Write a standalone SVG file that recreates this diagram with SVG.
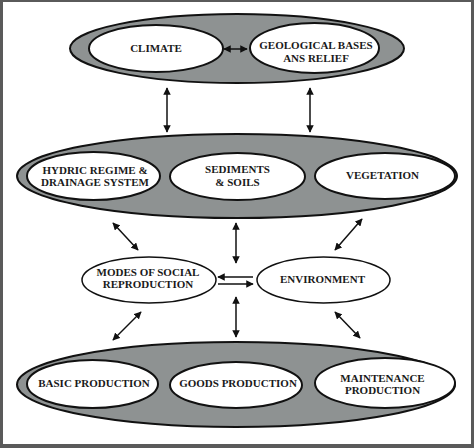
<svg xmlns="http://www.w3.org/2000/svg" width="474" height="448" viewBox="0 0 474 448">
<style>
.outer{fill:#8e9292;stroke:#111;stroke-width:2}
.inner{fill:#fff;stroke:#111;stroke-width:2}
.plain{fill:#fff;stroke:#111;stroke-width:1.5}
text{font-family:"Liberation Serif","Times New Roman",serif;font-weight:bold;font-size:11px;fill:#1a1a1a;text-anchor:middle}
.conn line{stroke:#111;stroke-width:1.5;marker-end:url(#ah)}
.conn line.dbl{marker-start:url(#ah)}
</style>
<defs>
<marker id="ah" viewBox="0 0 10 10" refX="9" refY="5" markerWidth="5" markerHeight="5" orient="auto-start-reverse" markerUnits="strokeWidth">
<path d="M0,0 L10,5 L0,10 Z" fill="#111"/>
</marker>
</defs>
<rect width="474" height="448" fill="#fff"/>
<g id="frame" fill="#5a5a5a">
<rect x="0" y="0" width="474" height="2"/>
<rect x="0" y="0" width="3" height="448"/>
<rect x="471" y="0" width="3" height="448"/>
<rect x="0" y="444" width="474" height="4"/>
</g>
<g id="group-top"><ellipse class="outer" cx="237" cy="48.5" rx="167" ry="34.5"/></g>
<g id="group-middle"><ellipse class="outer" cx="237" cy="176" rx="220" ry="42"/></g>
<g id="group-bottom"><ellipse class="outer" cx="236" cy="384.5" rx="219" ry="42.5"/></g>
<g id="climate"><ellipse class="inner" cx="156" cy="48.5" rx="67" ry="23.5"/><text x="156" y="52">CLIMATE</text></g>
<g id="geological"><ellipse class="inner" cx="314.5" cy="48" rx="64.5" ry="25"/><text x="316" y="48.5">GEOLOGICAL BASES</text><text x="316" y="61.5">ANS RELIEF</text></g>
<g id="hydric"><ellipse class="inner" cx="93.5" cy="176" rx="66.5" ry="24"/><text x="95" y="173.5">HYDRIC REGIME &amp;</text><text x="95" y="186">DRAINAGE SYSTEM</text></g>
<g id="sediments"><ellipse class="inner" cx="237.5" cy="176.5" rx="67.5" ry="23.5"/><text x="237.5" y="173">SEDIMENTS</text><text x="237.5" y="185.5">&amp; SOILS</text></g>
<g id="vegetation"><ellipse class="inner" cx="385" cy="176" rx="70" ry="23"/><text x="382.5" y="179">VEGETATION</text></g>
<g id="modes"><ellipse class="plain" cx="149" cy="280" rx="67" ry="23"/><text x="148" y="276">MODES OF SOCIAL</text><text x="148" y="288">REPRODUCTION</text></g>
<g id="environment"><ellipse class="plain" cx="323.5" cy="280" rx="66.5" ry="23"/><text x="322.5" y="283">ENVIRONMENT</text></g>
<g id="basic"><ellipse class="inner" cx="92.5" cy="384" rx="65.5" ry="24"/><text x="94" y="387">BASIC PRODUCTION</text></g>
<g id="goods"><ellipse class="inner" cx="236" cy="385" rx="66" ry="23"/><text x="238" y="387">GOODS PRODUCTION</text></g>
<g id="maintenance"><ellipse class="inner" cx="385" cy="383" rx="70" ry="25"/><text x="382.5" y="382">MAINTENANCE</text><text x="382.5" y="394">PRODUCTION</text></g>
<g id="connectors" class="conn">
<line class="dbl" x1="224" y1="49" x2="247" y2="49"/>
<line class="dbl" x1="167" y1="88" x2="167" y2="132"/>
<line class="dbl" x1="310" y1="88" x2="310" y2="132"/>
<line class="dbl" x1="113" y1="223" x2="138" y2="250"/>
<line class="dbl" x1="236" y1="223" x2="236" y2="263"/>
<line class="dbl" x1="362" y1="219" x2="335" y2="250"/>
<line x1="253" y1="277" x2="218" y2="277"/>
<line x1="218" y1="284" x2="253" y2="284"/>
<line class="dbl" x1="141" y1="312" x2="113" y2="340"/>
<line class="dbl" x1="236" y1="297" x2="236" y2="337"/>
<line class="dbl" x1="335" y1="312" x2="360" y2="338"/>
</g>
</svg>
